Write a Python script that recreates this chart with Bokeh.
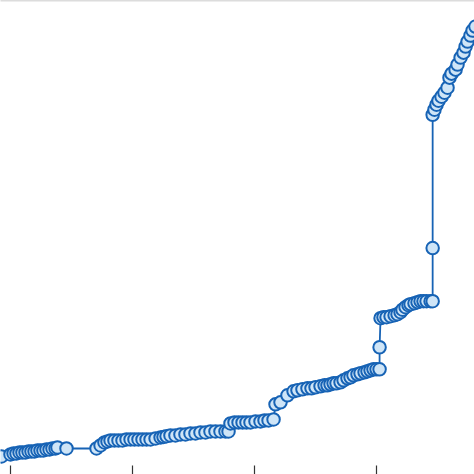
from bokeh.plotting import figure
from bokeh.models import Range1d, LinearAxis, FixedTicker
from bokeh.embed import file_html
from bokeh.resources import INLINE

# values (rank along x, cumulative value along y)
rank = [-7.4,
        0.0, 2.5, 4.9, 7.4, 9.8, 12.3, 14.8, 17.2, 19.7, 22.1, 24.6, 27.0, 29.5,
        32.0, 34.4, 36.9, 38.5,
        45.9, 70.5, 73.8, 77.0, 79.5, 82.0, 85.2, 88.5, 91.8, 95.1, 98.4, 101.6,
        104.9, 108.2, 111.5, 114.8, 118.9, 123.0, 125.4, 127.9, 131.1, 135.2,
        139.3, 143.4, 147.5, 151.6, 155.7, 159.8, 163.9, 168.0, 172.1, 176.2,
        178.7,
        180.3, 183.6, 186.9, 190.2, 193.4, 196.7, 200.8, 204.9, 208.2, 211.5,
        215.6,
        217.2, 221.3, 227.0, 232.0, 235.2, 239.3, 243.4, 246.7, 250.0, 254.1,
        257.4, 259.8, 262.3, 264.8, 267.2, 270.5, 273.0, 276.2, 278.7, 281.1,
        284.4, 286.9, 290.2, 292.6, 295.1, 297.5, 300.0, 302.5,
        302.5, 303.3, 305.7, 308.2, 311.5, 314.8, 317.2, 319.7, 321.3, 323.8,
        326.2, 327.9, 331.1, 333.6, 336.1, 338.5, 341.0, 344.3, 346.0,
        346.0, 346.0, 347.5, 349.2, 350.8, 353.3, 355.7, 358.2, 359.8, 361.5,
        364.8, 366.4, 368.9, 371.3, 373.0, 374.6, 377.0, 378.7, 381.1]

value = [1.94,
         2.37, 2.59, 2.59, 2.80, 2.80, 2.80, 3.02, 3.02, 3.02, 3.23, 3.23, 3.23,
         3.45, 3.45, 3.66, 3.66, 3.88,
         3.66, 3.66, 4.31, 4.96, 5.17, 5.39, 5.39, 5.39, 5.39, 5.60, 5.60, 5.60,
         5.60, 5.60, 5.60, 5.60, 5.82, 6.03, 6.15, 6.30, 6.47, 6.47, 6.68, 6.68,
         6.90, 6.90, 7.11, 7.11, 7.33, 7.33, 7.33, 7.33, 7.33,
         9.05, 9.27, 9.27, 9.27, 9.27, 9.27, 9.48, 9.48, 9.70, 9.70, 9.91,
         13.15, 13.58, 15.09, 15.95, 16.16, 16.38, 16.59, 16.59, 16.81, 17.03,
         17.24, 17.24, 17.46, 17.67, 17.67, 17.89, 18.32, 18.75, 18.97, 19.40,
         19.61, 19.83, 20.04, 20.26, 20.47, 20.69, 20.69, 20.69,
         25.43, 31.68, 31.90, 31.90, 32.11, 32.33, 32.54, 32.97, 33.50, 34.05,
         34.48, 34.70, 34.91, 35.13, 35.34, 35.34, 35.34, 35.34, 35.34,
         46.77, 75.43, 76.51, 77.59, 78.45, 79.31, 80.17, 81.25, 83.41, 84.27,
         85.13, 86.21, 87.72, 88.79, 90.09, 91.16, 92.46, 93.53, 94.40]

x_ticks = [0, 100, 200, 300]
blank = {t: "" for t in x_ticks}

p = figure(width=474, height=474, output_backend="svg", toolbar_location=None,
           x_range=Range1d(-8.2, 380.3), y_range=Range1d(0, 100),
           x_axis_location=None, y_axis_location=None, min_border=0)
p.xgrid.visible = False
p.ygrid.visible = False
p.outline_line_color = None

bottom = LinearAxis(ticker=FixedTicker(ticks=x_ticks), axis_line_color=None,
                    major_tick_in=0, major_tick_out=9,
                    major_tick_line_color="#333333", major_tick_line_width=1.2,
                    minor_tick_line_color=None, major_label_overrides=blank,
                    major_label_text_font_size="1px", major_label_standoff=0)
p.add_layout(bottom, "below")

top = LinearAxis(ticker=FixedTicker(ticks=[]), axis_line_color="#dcdcdc",
                 axis_line_width=2, major_tick_in=0, major_tick_out=0,
                 minor_tick_line_color=None,
                 major_label_text_font_size="1px", major_label_standoff=0)
p.add_layout(top, "above")

p.line(rank, value, line_color="#1763b5", line_width=1.8)
p.scatter(rank, value, size=12.5, fill_color="#cfe5f7", line_color="#1763b5",
          line_width=2)

open("out.html", "w").write(file_html(p, INLINE))
